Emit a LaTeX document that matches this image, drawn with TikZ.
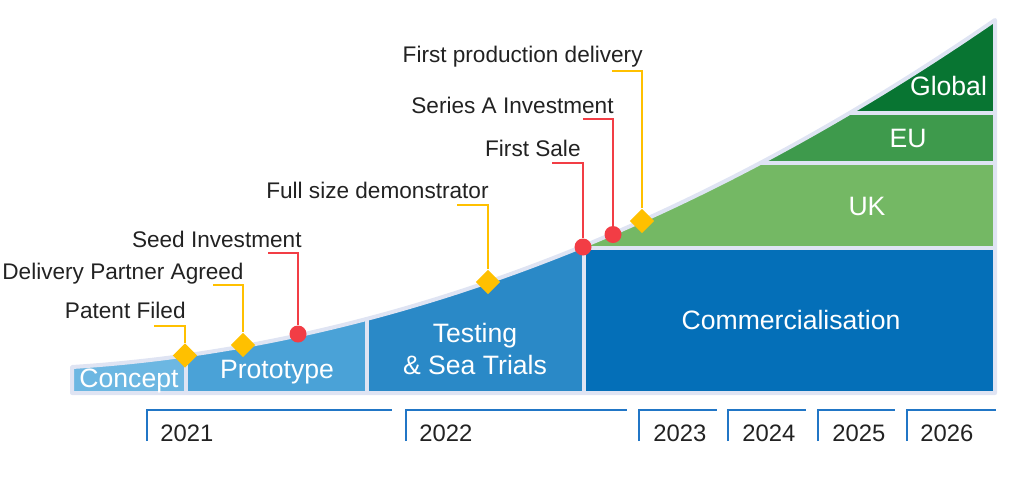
\documentclass[tikz,border=0pt]{standalone}
\usepackage{fontspec}
\setmainfont{Liberation Sans}
\usepackage{tikz}
\usepackage{xcolor}

\definecolor{conceptc}{HTML}{6CB7E2}
\definecolor{protoc}{HTML}{4AA2D7}
\definecolor{testc}{HTML}{2A89C7}
\definecolor{commc}{HTML}{046FB8}
\definecolor{ukc}{HTML}{74B864}
\definecolor{euc}{HTML}{3E9A4C}
\definecolor{globc}{HTML}{087532}
\definecolor{edgec}{HTML}{DFE4F3}
\definecolor{goldc}{HTML}{FFC000}
\definecolor{redc}{HTML}{F23D45}
\definecolor{yearc}{HTML}{2176C6}
\definecolor{txtc}{HTML}{222222}

\begin{document}
\begin{tikzpicture}[x=0.5pt,y=-0.5pt,
  milelabel/.style={anchor=base east,inner sep=0pt,text=txtc,font=\fontsize{11.3}{13}\selectfont},
  blocktext/.style={anchor=base,inner sep=0pt,text=white,font=\fontsize{13.3}{16}\selectfont},
  yeartext/.style={anchor=base west,inner sep=0pt,text=txtc,font=\fontsize{11.9}{14}\selectfont},
  yearbar/.style={draw=yearc,line width=1.1pt},
  goldmark/.style={fill=goldc,rotate=45,minimum size=8.5pt,inner sep=0pt},
  redmark/.style={circle,fill=redc,minimum size=8.5pt,inner sep=0pt},
  goldlink/.style={draw=goldc,line width=1pt},
  redlink/.style={draw=redc,line width=1pt},
  seam/.style={draw=edgec,line width=2pt}]
\useasboundingbox (0,0) rectangle (1016,478);

%% stages under the curve
\begin{scope}
\clip (72,393) -- (72,367) .. controls (379.7,347.5) and (687.3,231.8) .. (995,20) -- (995,393) -- cycle;
\fill[conceptc] (72,0) rectangle (186,393);
\fill[protoc] (186,0) rectangle (367,393);
\fill[testc] (367,0) rectangle (584,393);
\fill[commc] (584,248) rectangle (995,393);
\fill[ukc] (584,162.5) rectangle (995,248);
\fill[euc] (584,112.5) rectangle (995,162.5);
\fill[globc] (584,0) rectangle (995,112.5);
\draw[seam] (186,0) -- (186,393);
\draw[seam] (367,0) -- (367,393);
\draw[seam] (584,0) -- (584,393);
\draw[seam] (584,248) -- (995,248);
\draw[seam] (584,162.5) -- (995,162.5);
\draw[seam] (584,112.5) -- (995,112.5);
\end{scope}
\draw[seam,line join=round] (72,393) -- (72,367) .. controls (379.7,347.5) and (687.3,231.8) .. (995,20) -- (995,393) -- cycle;

%% stage names
\node[blocktext] (concept) at (129,387) {Concept};
\node[blocktext] (proto) at (277,378) {Prototype};
\node[blocktext,anchor=center,align=center] (test) at (475,349) {Testing\\\& Sea Trials};
\node[blocktext] (comm) at (791,329) {Commercialisation};
\node[blocktext] (uk) at (867,215) {UK};
\node[blocktext] (eu) at (908,147) {EU};
\node[blocktext] (glob) at (948.5,95) {Global};

%% milestones
\node[goldmark] (pf) at (185,355.5) {};
\node[goldmark] (dp) at (243,345) {};
\node[redmark] (si) at (298,334) {};
\node[goldmark] (fs) at (488,282) {};
\node[redmark] (sale) at (583,247) {};
\node[redmark] (sa) at (613,234.5) {};
\node[goldmark] (fp) at (642,221) {};

\node[milelabel] (pfl) at (186,318) {Patent Filed};
\node[milelabel] (dpl) at (244,279) {Delivery Partner Agreed};
\node[milelabel] (sil) at (302,247) {Seed Investment};
\node[milelabel] (fsl) at (489,198) {Full size demonstrator};
\node[milelabel] (salel) at (581,156) {First Sale};
\node[milelabel] (sal) at (614,113) {Series A Investment};
\node[milelabel] (fpl) at (643,62) {First production delivery};

\coordinate (pfk) at (154,326);
\coordinate (dpk) at (213,285);
\coordinate (sik) at (268,253);
\coordinate (fsk) at (457,204.5);
\coordinate (salek) at (552,163);
\coordinate (sak) at (583,119);
\coordinate (fpk) at (612,71);

\draw[goldlink] (pfk) -| (pf);
\draw[goldlink] (dpk) -| (dp);
\draw[redlink] (sik) -| (si);
\draw[goldlink] (fsk) -| (fs);
\draw[redlink] (salek) -| (sale);
\draw[redlink] (sak) -| (sa);
\draw[goldlink] (fpk) -| (fp);

%% years
\draw[yearbar] (147,441) |- (392,410);
\draw[yearbar] (406,441) |- (627,410);
\draw[yearbar] (639,441) |- (717,410);
\draw[yearbar] (728,441) |- (806,410);
\draw[yearbar] (818,441) |- (895,410);
\draw[yearbar] (907,441) |- (996,410);

\node[yeartext] (y21) at (160,441) {2021};
\node[yeartext] (y22) at (419,441) {2022};
\node[yeartext] (y23) at (653,441) {2023};
\node[yeartext] (y24) at (742,441) {2024};
\node[yeartext] (y25) at (832,441) {2025};
\node[yeartext] (y26) at (920,441) {2026};
\end{tikzpicture}
\end{document}
